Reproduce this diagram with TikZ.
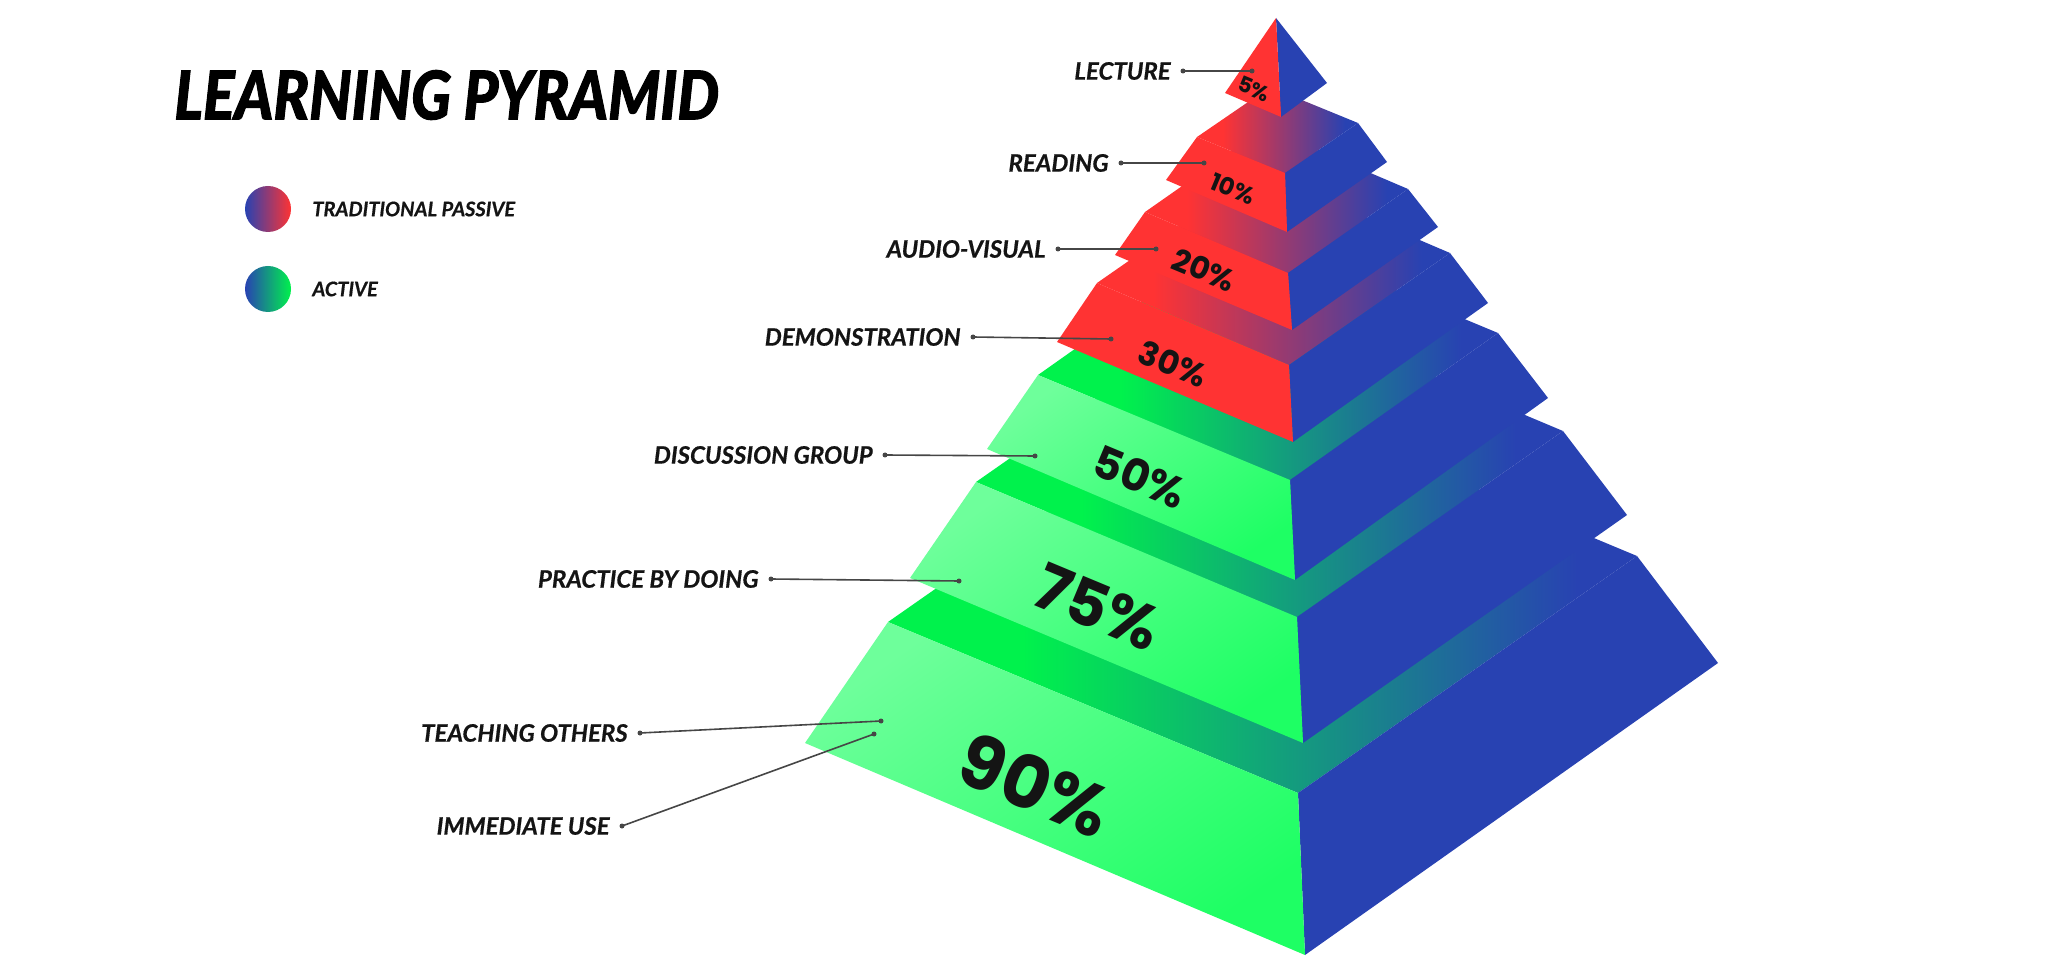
\documentclass[tikz,border=0pt]{standalone}
\usepackage{fontspec}
\setmainfont{Lato}[BoldItalicFeatures={FakeBold=0.6}]
\newfontfamily\titlefont{Lato Black Italic}[FakeStretch=0.88,FakeBold=1.5]
\newfontfamily\pctfont{Poppins}
\definecolor{faceblue}{RGB}{40,66,178}
\definecolor{facered}{RGB}{255,51,51}
\definecolor{ledgegreen}{RGB}{0,242,76}
\definecolor{gLight}{RGB}{110,255,155}
\definecolor{gDeep}{RGB}{30,255,100}
\definecolor{leadgray}{RGB}{70,70,70}
\definecolor{ink}{RGB}{20,20,20}
\pgfdeclarehorizontalshading{redledge}{100bp}{color(0bp)=(facered); color(33bp)=(facered); color(71bp)=(faceblue); color(100bp)=(faceblue)}
\pgfdeclarehorizontalshading{greenledge}{100bp}{color(0bp)=(ledgegreen); color(34bp)=(ledgegreen); color(71bp)=(faceblue); color(100bp)=(faceblue)}

\begin{document}
\begin{tikzpicture}[x=0.5pt,y=-0.5pt,
    leader/.style={draw=leadgray,line width=0.8pt},
    lbl/.style={font=\bfseries\itshape\fontsize{12}{14}\selectfont,text=ink,inner sep=0pt,anchor=east},
    leg/.style={font=\bfseries\itshape\fontsize{10}{12}\selectfont,text=ink,inner sep=0pt,anchor=west},
    pct/.style={font=\pctfont\bfseries\fontsize{#1}{#1}\selectfont,text=ink,rotate=-22.6,inner sep=0pt}]
  \useasboundingbox (0,0) rectangle (2048,956);

  \foreach \n/\tlx/\tly/\tcx/\tcy/\trx/\try/\blx/\bly/\bcx/\bcy/\brx/\bry in {
      7/888/622/1298/793/1637/556/805/743/1305/955/1718/663,
      6/976/482/1297/617/1563/431/910/578/1303/743/1627/515,
      5/1038/375/1290/480/1498/333/987/449/1295/580/1548/398} {
    \shade[shading=greenledge] (\tlx,\tly) -- (\tcx,\tcy) -- (\trx,\try) -- ({\tlx+\trx-\tcx},{\tly+\try-\tcy}) -- cycle;
    \fill[faceblue] (\tcx,\tcy) -- (\trx,\try) -- (\brx,\bry) -- (\bcx,\bcy) -- cycle;
    \shade[top color=gLight,bottom color=gDeep,shading angle=35]
      (\tlx,\tly) -- (\tcx,\tcy) -- (\bcx,\bcy) -- (\blx,\bly) -- cycle;
  }
  \foreach \n/\tlx/\tly/\tcx/\tcy/\trx/\try/\blx/\bly/\bcx/\bcy/\brx/\bry in {
      4/1097/283/1289/365/1450/253/1057/342/1293/442/1488/303,
      3/1145/212/1288/273/1408/189/1115/255/1292/330/1438/227,
      2/1197/137/1285/173/1358/123/1166/180/1287/232/1387/162} {
    \shade[shading=redledge] (\tlx,\tly) -- (\tcx,\tcy) -- (\trx,\try) -- ({\tlx+\trx-\tcx},{\tly+\try-\tcy}) -- cycle;
    \fill[faceblue] (\tcx,\tcy) -- (\trx,\try) -- (\brx,\bry) -- (\bcx,\bcy) -- cycle;
    \fill[facered] (\tlx,\tly) -- (\tcx,\tcy) -- (\bcx,\bcy) -- (\blx,\bly) -- cycle;
  }
  \coordinate (apex) at (1276,18);
  \fill[faceblue] (apex) -- (1281,117) -- (1327,83) -- cycle;
  \fill[facered] (apex) -- (1225,93) -- (1281,117) -- cycle;

  \node[pct=10.7] (p5) at (1254,89) {5\%};
  \node[pct=12] (p10) at (1233,189) {10\%};
  \node[pct=15.5] (p20) at (1204,270) {20\%};
  \node[pct=16.5] (p30) at (1173,364) {30\%};
  \node[pct=22] (p50) at (1140,477) {50\%};
  \node[pct=31.5] (p75) at (1098,607) {75\%};
  \node[pct=36.5] (p90) at (1035,785) {90\%};

  \foreach \nm/\txt/\ax/\ay/\bx/\by in {
      lecture/LECTURE/1183/71/1252/71,
      reading/READING/1121/163/1204/163,
      audio/AUDIO-VISUAL/1058/249/1156/249,
      demo/DEMONSTRATION/973/337/1111/339,
      discuss/DISCUSSION GROUP/885/455/1035/456,
      practice/PRACTICE BY DOING/771/579/959/581,
      teach/TEACHING OTHERS/640/733/881/721,
      immediate/IMMEDIATE USE/622/826/874/734} {
    \coordinate (a\nm) at (\ax,\ay);
    \coordinate (b\nm) at (\bx,\by);
    \node[lbl] (\nm) at ([xshift=-6pt]a\nm) {\txt};
    \draw[leader] (a\nm) -- (b\nm);
    \fill[leadgray] (a\nm) circle (2.5) (b\nm) circle (2.5);
  }

  \node[font=\titlefont\fontsize{33.5}{36}\selectfont,text=black,anchor=west,inner sep=0pt] (title) at (174,95) {LEARNING PYRAMID};

  \node[circle,minimum size=23pt,inner sep=0pt,left color=faceblue,right color=facered] (dotPassive) at (268,209) {};
  \node[leg] (passive) at (312,209) {TRADITIONAL PASSIVE};
  \node[circle,minimum size=23pt,inner sep=0pt,left color=faceblue,right color=ledgegreen] (dotActive) at (268,289) {};
  \node[leg] (active) at (312,289) {ACTIVE};
\end{tikzpicture}
\end{document}
